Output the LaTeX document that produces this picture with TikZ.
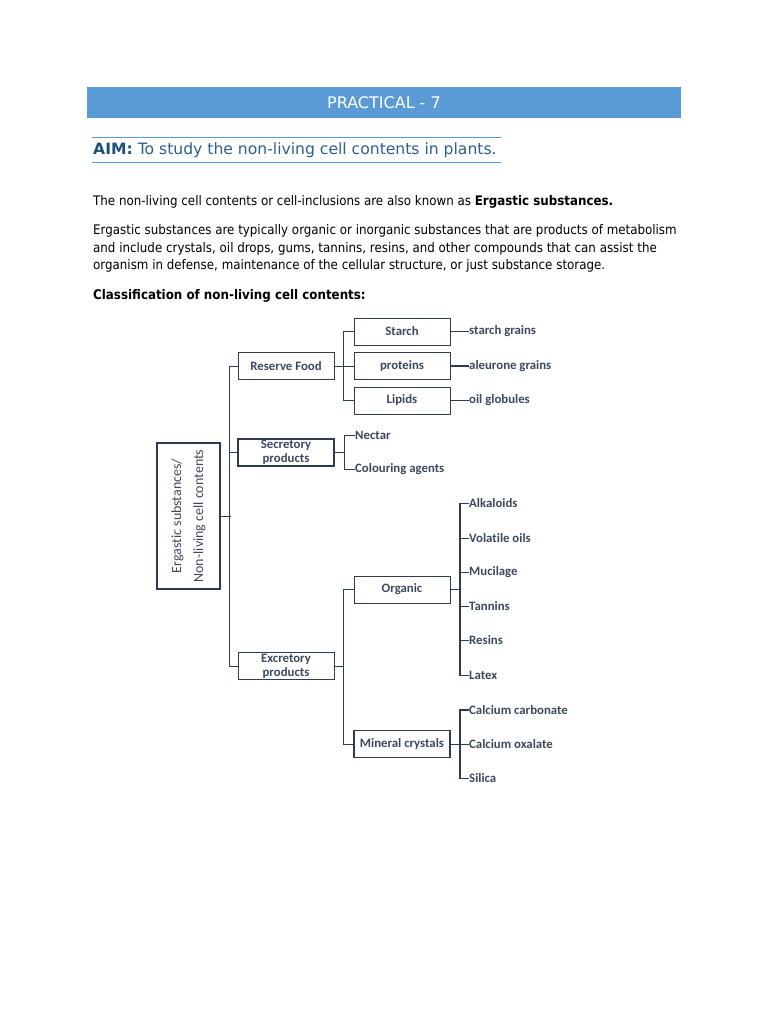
\documentclass[tikz,border=0pt]{standalone}
\usepackage{fontspec}
\setmainfont{DejaVu Sans}
\newfontfamily\bodyfont{DejaVu Sans Condensed}
\newfontfamily\diagfont[Ligatures=NoCommon]{Carlito}
\usetikzlibrary{calc}

\definecolor{headblue}{RGB}{91,155,213}
\definecolor{aimblue}{RGB}{31,78,121}
\definecolor{aimtext}{RGB}{46,94,140}
\definecolor{boxline}{RGB}{47,59,78}
\definecolor{boxtext}{RGB}{60,73,93}

\tikzset{
  cbox/.style={draw=boxline, line width=0.8pt, minimum width=96pt, minimum height=27pt,
    inner sep=1pt, align=center, text=boxtext,
    font=\diagfont\bfseries\fontsize{12.8}{13.8}\selectfont},
  leaf/.style={anchor=west, inner sep=0pt, text=boxtext,
    font=\diagfont\bfseries\fontsize{12.8}{14}\selectfont},
  link/.style={draw=boxline, line width=1pt},
  fatlink/.style={draw=boxline, line width=1.8pt},
  bodytext/.style={anchor=base west, inner sep=0pt, font=\bodyfont\fontsize{13.2}{15}\selectfont}
}

\begin{document}
\begin{tikzpicture}[x=1pt,y=-1pt]
\useasboundingbox (0,0) rectangle (768,1024);

%KOPF
\fill[headblue] (87,87) rectangle (681,118);
\node[text=white, font=\fontsize{16}{18}\selectfont] (title) at (384,102.5) {PRACTICAL - 7};

%AIM
\draw[headblue, line width=0.8pt] (92,137) -- (501,137);
\draw[headblue, line width=0.8pt] (92,162) -- (501,162);
\node[anchor=base west, inner sep=0pt, text=aimtext, font=\fontsize{15.6}{17}\selectfont] (aim) at (93,154.5)
  {\textcolor{aimblue}{\bfseries AIM:} To study the non-living cell contents in plants.};

%TEXT
\node[bodytext] (intro) at (93,205.5) {The non-living cell contents or cell-inclusions are also known as \textbf{Ergastic substances.}};
\node[bodytext] (parA) at (93,234.5) {Ergastic substances are typically organic or inorganic substances that are products of metabolism};
\node[bodytext] (parB) at (93,252) {and include crystals, oil drops, gums, tannins, resins, and other compounds that can assist the};
\node[bodytext] (parC) at (93,269.5) {organism in defense, maintenance of the cellular structure, or just substance storage.};
\node[bodytext] (klass) at (93,299) {\textbf{Classification of non-living cell contents:}};

%WURZEL
\node[draw=boxline, line width=1.6pt, rotate=90, minimum width=146pt, minimum height=63pt,
  inner sep=1pt, align=center, text=boxtext, font=\diagfont\fontsize{14}{22}\selectfont]
  (root) at (188.5,516) {Ergastic substances/\\Non-living cell contents};

%EBENE 1
\node[cbox] (rf) at (286,366) {Reserve Food};
\node[cbox, line width=1.2pt] (sec) at (286,452.5) {Secretory\\products};
\node[cbox] (ex) at (286,666) {Excretory\\products};

\draw[link] (root.south) -- ++(10,0);
\draw[link] (rf.west) -- ++(-8,0) |- (ex.west);
\draw[link] (sec.west) -- ++(-8,0);

%RESERVE FOOD
\node[cbox] (starch) at (402,331.5) {Starch};
\node[cbox] (prot) at (402,366) {proteins};
\node[cbox] (lip) at (402,400.5) {Lipids};
\draw[link] (starch.west) -- ++(-10,0) |- (lip.west);
\draw[link] (rf.east) -- (prot.west);

\node[leaf] (starchg) at (469,331.5) {starch grains};
\node[leaf] (aleur) at (469,366) {aleurone grains};
\node[leaf] (oilg) at (469,400.5) {oil globules};
\draw[fatlink] (starch.east) -- (starchg.west);
\draw[fatlink] (prot.east) -- (aleur.west);
\draw[link] (lip.east) -- (oilg.west);

%SECRETORY
\node[leaf] (nectar) at (355,435) {Nectar};
\node[leaf] (colour) at (355,469) {Colouring agents};
\draw[link] (nectar.west) -- ++(-11,0) |- (colour.west);
\draw[link] (sec.east) -- ++(10,0);

%EXCRETORY
\node[cbox] (org) at (402,589.5) {Organic};
\node[cbox, line width=1.6pt] (mineral) at (402,744) {Mineral crystals};
\draw[link] (org.west) -- ++(-10,0) |- (mineral.west);
\draw[link] (ex.east) -- ++(10,0);

%ORGANIC
\node[leaf] (alk) at (469,503.5) {Alkaloids};
\node[leaf] (vol) at (469,538) {Volatile oils};
\node[leaf] (muc) at (469,572) {Mucilage};
\node[leaf] (tan) at (469,606.5) {Tannins};
\node[leaf] (res) at (469,640.5) {Resins};
\node[leaf] (lat) at (469,675.5) {Latex};
\draw[fatlink] (alk.west) -- ++(-9,0) |- (lat.west);
\foreach \n in {vol,muc,tan,res}
  \draw[link] (\n.west) -- ++(-9,0);
\draw[fatlink] (org.east) -- ++(10,0);

%MINERAL
\node[leaf] (carb) at (469,710) {Calcium carbonate};
\node[leaf] (oxal) at (469,744) {Calcium oxalate};
\node[leaf] (sil) at (469,778.5) {Silica};
\draw[fatlink] (carb.west) -- ++(-9,0) |- (sil.west);
\draw[link] (mineral.east) -- (oxal.west);

\end{tikzpicture}
\end{document}
